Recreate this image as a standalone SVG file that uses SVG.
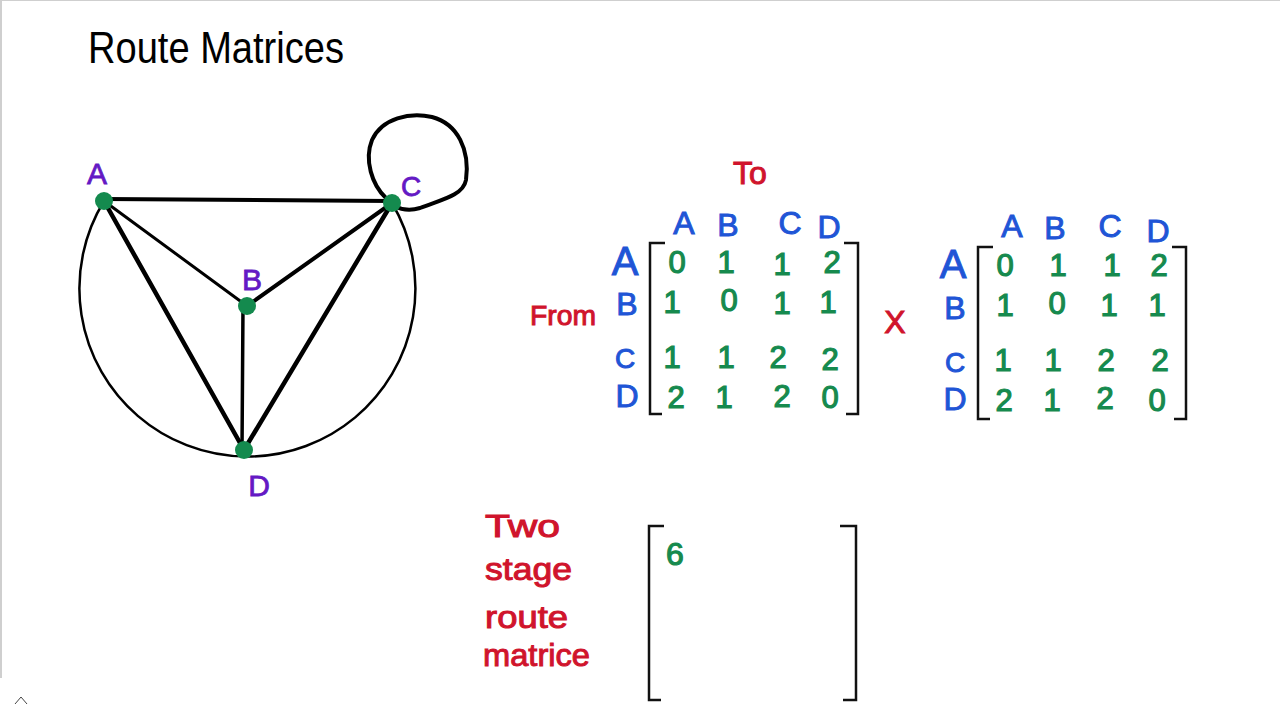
<svg xmlns="http://www.w3.org/2000/svg" width="1280" height="720" viewBox="0 0 1280 720">
<style>
text{font-family:"Liberation Sans","DejaVu Sans",sans-serif}
.red{fill:#d0142c;stroke:#d0142c;stroke-width:1}
.blue{fill:#1f55d6;stroke:#1f55d6;stroke-width:1}
.green{fill:#168a4e;stroke:#168a4e;stroke-width:1.2}
.purple{fill:#6419c4;stroke:#6419c4;stroke-width:0.8}
.edge{stroke:#000;fill:none;stroke-linecap:round;stroke-linejoin:round}
.br{stroke:#111;stroke-width:2.5;fill:none}
.dot{fill:#148a4e}
</style>
<rect width="1280" height="720" fill="#fff"/>
<line x1="0" y1="0.5" x2="1280" y2="0.5" stroke="#cfcfcf" stroke-width="1"/>
<line x1="1" y1="0" x2="1" y2="678" stroke="#cfcfcf" stroke-width="2"/>
<polyline points="15,704 21,697 27,704" fill="none" stroke="#444" stroke-width="1"/>

<text x="88" y="63" font-size="44" textLength="256" lengthAdjust="spacingAndGlyphs" fill="#000">Route Matrices</text>

<g id="connectors">
  <path class="edge" stroke-width="2.5" d="M104,201 A168,168 0 1,0 392,203"/>
  <line class="edge" stroke-width="4" x1="104" y1="199" x2="392" y2="201"/>
  <line class="edge" stroke-width="3" x1="104" y1="201" x2="247" y2="306"/>
  <line class="edge" stroke-width="4.5" x1="104" y1="201" x2="244" y2="450"/>
  <line class="edge" stroke-width="4" x1="247" y1="306" x2="392" y2="203"/>
  <line class="edge" stroke-width="3.5" x1="243" y1="306" x2="242" y2="450"/>
  <line class="edge" stroke-width="4.5" x1="392" y1="203" x2="244" y2="450"/>
  <path class="edge" stroke-width="4" d="M386,198 C372,185 364,160 372,140 C382,118 410,112 432,117 C458,124 470,150 466,180 C463,196 440,200 420,208 C410,211 400,209 394,206"/>
</g>

<g id="node-A"><circle class="dot" cx="104" cy="201" r="9"/><text class="purple" x="97" y="184" font-size="30" text-anchor="middle">A</text></g>
<g id="node-B"><circle class="dot" cx="247" cy="306" r="9"/><text class="purple" x="252" y="290" font-size="30" text-anchor="middle">B</text></g>
<g id="node-C"><circle class="dot" cx="392" cy="203" r="9"/><text class="purple" x="411" y="196" font-size="28" text-anchor="middle">C</text></g>
<g id="node-D"><circle class="dot" cx="244" cy="450" r="9"/><text class="purple" x="259" y="496" font-size="30" text-anchor="middle">D</text></g>

<g id="matrix1">
  <text class="red" x="750" y="184" font-size="32" text-anchor="middle">To</text>
  <text class="red" x="530" y="325" font-size="28" textLength="66" lengthAdjust="spacingAndGlyphs">From</text>
  <path class="br" d="M665,243 H650 V414 H662"/>
  <path class="br" d="M844,243 H858 V414 H846"/>
  <g class="blue" font-size="32" text-anchor="middle">
    <text x="684" y="234">A</text><text x="728" y="236">B</text><text x="790" y="234">C</text><text x="829" y="238">D</text>
    <text x="625" y="275" font-size="40">A</text>
    <text x="627" y="315">B</text>
    <text x="625" y="368" font-size="28">C</text>
    <text x="627" y="407">D</text>
  </g>
  <g class="green" font-size="31" text-anchor="middle">
    <text x="677" y="273">0</text><text x="726" y="273">1</text><text x="782" y="275">1</text><text x="832" y="273">2</text>
    <text x="672" y="313">1</text><text x="729" y="311">0</text><text x="782" y="314">1</text><text x="828" y="313">1</text>
    <text x="672" y="368">1</text><text x="726" y="368">1</text><text x="778" y="368">2</text><text x="830" y="370">2</text>
    <text x="676" y="408">2</text><text x="724" y="408">1</text><text x="782" y="407">2</text><text x="830" y="408">0</text>
  </g>
</g>

<text id="times" class="red" x="895" y="333" font-size="32" text-anchor="middle">X</text>

<g id="matrix2">
  <path class="br" d="M993,247 H978 V419 H990"/>
  <path class="br" d="M1172,247 H1186 V419 H1174"/>
  <g class="blue" font-size="32" text-anchor="middle">
    <text x="1012" y="237">A</text><text x="1055" y="239">B</text><text x="1110" y="237">C</text><text x="1158" y="242">D</text>
    <text x="953" y="278" font-size="40">A</text>
    <text x="955" y="319">B</text>
    <text x="955" y="372" font-size="28">C</text>
    <text x="955" y="410">D</text>
  </g>
  <g class="green" font-size="31" text-anchor="middle">
    <text x="1005" y="276">0</text><text x="1058" y="276">1</text><text x="1112" y="276">1</text><text x="1159" y="276">2</text>
    <text x="1005" y="316">1</text><text x="1057" y="314">0</text><text x="1109" y="316">1</text><text x="1157" y="316">1</text>
    <text x="1003" y="371">1</text><text x="1053" y="371">1</text><text x="1106" y="371">2</text><text x="1160" y="371">2</text>
    <text x="1004" y="411">2</text><text x="1052" y="411">1</text><text x="1105" y="409">2</text><text x="1157" y="411">0</text>
  </g>
</g>

<g id="result">
  <g class="red" font-size="32">
    <text x="485" y="537" textLength="75" lengthAdjust="spacingAndGlyphs">Two</text>
    <text x="485" y="580" textLength="87" lengthAdjust="spacingAndGlyphs">stage</text>
    <text x="485" y="628" textLength="83" lengthAdjust="spacingAndGlyphs">route</text>
    <text x="483" y="666" textLength="107" lengthAdjust="spacingAndGlyphs">matrice</text>
  </g>
  <path class="br" d="M664,526 H649 V700 H661"/>
  <path class="br" d="M840,526 H856 V700 H843"/>
  <text class="green" x="675" y="565" font-size="32" text-anchor="middle">6</text>
</g>
</svg>
